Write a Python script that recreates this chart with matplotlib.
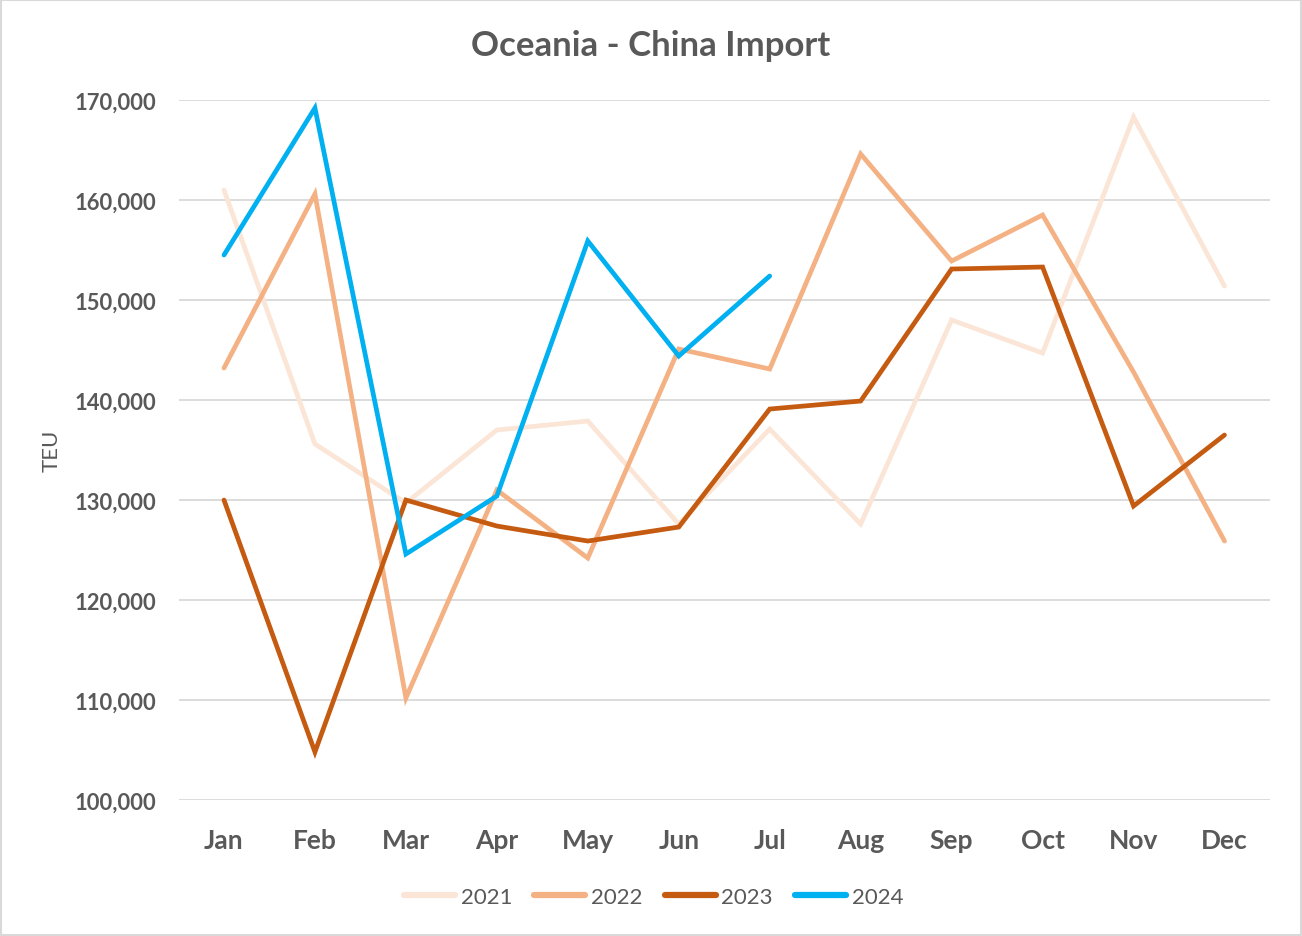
import matplotlib
matplotlib.use("Agg")
import matplotlib.pyplot as plt
from matplotlib.patches import Rectangle
from matplotlib.ticker import FuncFormatter, MultipleLocator

months = ["Jan", "Feb", "Mar", "Apr", "May", "Jun", "Jul", "Aug", "Sep", "Oct", "Nov", "Dec"]
y2021 = [161000, 135600, 129700, 137000, 137900, 127600, 137100, 127600, 148000, 144700, 168300, 151400]
y2022 = [143200, 160600, 110200, 131000, 124200, 145100, 143100, 164600, 153900, 158500, 142800, 125900]
y2023 = [130000, 104800, 130000, 127400, 125900, 127300, 139100, 139900, 153100, 153300, 129400, 136500]
y2024 = [154500, 169200, 124600, 130400, 155900, 144400, 152400]

series = [("2021", y2021, "#FBE5D6"),
          ("2022", y2022, "#F4B183"),
          ("2023", y2023, "#C55A11"),
          ("2024", y2024, "#00B0F0")]

plt.rcParams['font.family'] = ['Lato', 'DejaVu Sans']
text_color = "#595959"

fig = plt.figure(figsize=(13.02, 9.37), dpi=100)
ax = fig.add_axes([0.1371, 0.1451, 0.9754 - 0.1371, 0.8922 - 0.1451])

x = list(range(len(months)))
for name, vals, col in series:
    ax.plot(x[:len(vals)], vals, color=col, lw=3.4, label=name,
            solid_capstyle='round', solid_joinstyle='miter')

ax.set_xlim(-0.5, 11.5)
ax.set_ylim(100000, 170000)
ax.yaxis.set_major_locator(MultipleLocator(10000))
ax.yaxis.set_major_formatter(FuncFormatter(lambda v, p: f"{int(v):,}"))
ax.set_xticks(x)
ax.set_xticklabels(months)
ax.grid(axis='y', color='#D9D9D9', lw=1.3)
ax.set_axisbelow(True)
for s in ax.spines.values():
    s.set_visible(False)
ax.tick_params(axis='both', length=0, colors=text_color)
ax.tick_params(axis='y', labelsize=15.8, pad=16)
ax.tick_params(axis='x', labelsize=19, pad=20)
for lbl in ax.get_yticklabels() + ax.get_xticklabels():
    lbl.set_fontweight('bold')

fig.text(0.040, 0.5187, "TEU", rotation=90, ha='center', va='center',
         fontsize=16, color=text_color)
fig.text(0.5, 0.951, "Oceania - China Import", ha='center', va='center',
         fontsize=25, fontweight='bold', color=text_color)

leg = fig.legend(loc='center', bbox_to_anchor=(0.502, 0.042), ncol=4, frameon=False,
                 fontsize=16, handlelength=2.3, handletextpad=0.25, columnspacing=1.0)
for t in leg.get_texts():
    t.set_color(text_color)
for h in leg.get_lines():
    h.set_linewidth(4.5)
    h.set_solid_capstyle('round')

fig.patches.append(Rectangle((0.001, 0.001), 0.998, 0.998, transform=fig.transFigure,
                             fill=False, edgecolor='#D9D9D9', lw=1.5))

fig.savefig("out.png", dpi=100)
